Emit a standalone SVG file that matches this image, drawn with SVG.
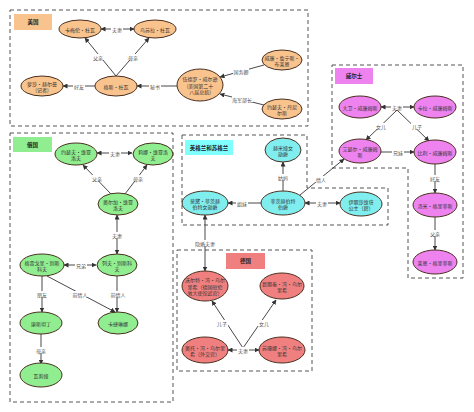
<svg xmlns="http://www.w3.org/2000/svg" width="474" height="412" viewBox="0 0 474 412">
<style>
text{font-family:"Noto Sans CJK SC","Liberation Sans",sans-serif;font-size:5px;fill:#333;text-anchor:middle;dominant-baseline:central}
.grp{fill:none;stroke:#555;stroke-width:1;stroke-dasharray:4,3}
.gl{font-weight:bold;font-size:5.5px;fill:#222}
.n{stroke:#4a3020;stroke-width:1}
.us{fill:#f9c38d}.ru{fill:#90ee90}.wa{fill:#ee82ee}.en{fill:#80eeee}.de{fill:#f08080}
.e{stroke:#333;stroke-width:0.9;fill:none;marker-end:url(#a)}
.d{marker-start:url(#b)}
.lb{fill:#fff}
.el{fill:#555}
</style>
<defs>
<marker id="a" viewBox="0 0 10 10" refX="9" refY="5" markerWidth="5" markerHeight="5" orient="auto" markerUnits="userSpaceOnUse"><path d="M0,0L10,5L0,10z" fill="#333"/></marker>
<marker id="b" viewBox="0 0 10 10" refX="1" refY="5" markerWidth="5" markerHeight="5" orient="auto" markerUnits="userSpaceOnUse"><path d="M10,0L0,5L10,10z" fill="#333"/></marker>
</defs>
<rect width="474" height="412" fill="#fff"/>
<g id="groups">
<rect class="grp" x="10" y="10" width="298" height="116"/>
<rect x="14" y="14" width="38" height="16" fill="#f9c38d"/><text class="gl" x="33" y="22">美国</text>
<rect class="grp" x="10" y="133" width="163" height="269"/>
<rect x="13" y="137" width="39" height="15" fill="#90ee90"/><text class="gl" x="32.5" y="144.5">俄国</text>
<polygon class="grp" points="182,135 307,135 307,188 388,188 388,225 182,225"/>
<rect x="185" y="140" width="48" height="15" fill="#80ffff"/><text class="gl" x="209" y="147.5">英格兰和苏格兰</text>
<polygon class="grp" points="332,65 463,65 463,278 408,278 408,168 332,168"/>
<rect x="335" y="68" width="38" height="16" fill="#ee82ee"/><text class="gl" x="354" y="76">威尔士</text>
<rect class="grp" x="177" y="250" width="135" height="121"/>
<rect x="226" y="253" width="39" height="16" fill="#f08080"/><text class="gl" x="245.5" y="261">德国</text>
</g>
<g id="connectors">
<line class="e d" x1="101" y1="29" x2="134" y2="29"/>
<line class="e" x1="116" y1="76" x2="85" y2="38"/>
<line class="e" x1="116" y1="76" x2="149" y2="38"/>
<line class="e" x1="95" y1="86" x2="63" y2="86"/>
<line class="e" x1="177" y1="86" x2="137" y2="86"/>
<line class="e" x1="264" y1="65" x2="220" y2="77"/>
<line class="e" x1="264" y1="105" x2="220" y2="94"/>
<line class="e d" x1="97" y1="153" x2="132" y2="153"/>
<line class="e" x1="111" y1="194" x2="83" y2="165"/>
<line class="e" x1="125" y1="194" x2="147" y2="165"/>
<line class="e d" x1="117" y1="215" x2="117" y2="254"/>
<line class="e d" x1="64" y1="265" x2="96" y2="265"/>
<line class="e" x1="42" y1="276" x2="42" y2="312"/>
<line class="e" x1="47" y1="276" x2="115" y2="312"/>
<line class="e" x1="117" y1="276" x2="117" y2="312"/>
<line class="e" x1="41" y1="334" x2="41" y2="364"/>
<line class="e d" x1="381" y1="107" x2="414" y2="107"/>
<line class="e" x1="397" y1="110" x2="366" y2="140"/>
<line class="e" x1="397" y1="110" x2="429" y2="141"/>
<line class="e" x1="381" y1="152" x2="414" y2="152"/>
<line class="e" x1="435" y1="164" x2="435" y2="193"/>
<line class="e" x1="435" y1="217" x2="435" y2="250"/>
<line class="e" x1="283" y1="191" x2="283" y2="162"/>
<line class="e" x1="261" y1="203" x2="228" y2="203"/>
<line class="e d" x1="305" y1="203" x2="340" y2="203"/>
<line class="e" x1="300" y1="195" x2="344" y2="159"/>
<line class="e d" x1="205" y1="215" x2="205" y2="271"/>
<line class="e d" x1="228" y1="350" x2="259" y2="350"/>
<line class="e" x1="243" y1="348" x2="212" y2="301"/>
<line class="e" x1="243" y1="348" x2="276" y2="300"/>
<g id="edge-labels">
<rect class="lb" x="111" y="26" width="12" height="6"/><text class="el" x="117" y="29">夫妻</text>
<rect class="lb" x="92" y="54" width="12" height="6"/><text class="el" x="98" y="57">父亲</text>
<rect class="lb" x="127" y="54" width="12" height="6"/><text class="el" x="133" y="57">母亲</text>
<rect class="lb" x="73" y="83" width="12" height="6"/><text class="el" x="79" y="86">好友</text>
<rect class="lb" x="149" y="83" width="12" height="6"/><text class="el" x="155" y="86">秘书</text>
<rect class="lb" x="233" y="68" width="16" height="6"/><text class="el" x="241" y="71">国务卿</text>
<rect class="lb" x="232" y="96" width="21" height="6"/><text class="el" x="242" y="99">海军部长</text>
<rect class="lb" x="109" y="150" width="12" height="6"/><text class="el" x="115" y="153">夫妻</text>
<rect class="lb" x="91" y="175" width="12" height="6"/><text class="el" x="97" y="178">父亲</text>
<rect class="lb" x="132" y="175" width="12" height="6"/><text class="el" x="138" y="178">母亲</text>
<rect class="lb" x="111" y="232" width="12" height="6"/><text class="el" x="117" y="235">夫妻</text>
<rect class="lb" x="75" y="262" width="12" height="6"/><text class="el" x="81" y="265">兄弟</text>
<rect class="lb" x="36" y="291" width="12" height="6"/><text class="el" x="42" y="294">朋友</text>
<rect class="lb" x="72" y="291" width="16" height="6"/><text class="el" x="80" y="294">前情人</text>
<rect class="lb" x="110" y="291" width="16" height="6"/><text class="el" x="118" y="294">前情人</text>
<rect class="lb" x="35" y="347" width="12" height="6"/><text class="el" x="41" y="350">母亲</text>
<rect class="lb" x="391" y="104" width="12" height="6"/><text class="el" x="397" y="107">夫妻</text>
<rect class="lb" x="375" y="123" width="12" height="6"/><text class="el" x="381" y="126">女儿</text>
<rect class="lb" x="411" y="123" width="12" height="6"/><text class="el" x="417" y="126">儿子</text>
<rect class="lb" x="392" y="149" width="12" height="6"/><text class="el" x="398" y="152">兄妹</text>
<rect class="lb" x="429" y="175" width="12" height="6"/><text class="el" x="435" y="178">好友</text>
<rect class="lb" x="429" y="230" width="12" height="6"/><text class="el" x="435" y="233">父亲</text>
<rect class="lb" x="277" y="174" width="12" height="6"/><text class="el" x="283" y="177">姑妈</text>
<rect class="lb" x="236" y="200" width="12" height="6"/><text class="el" x="242" y="203">姐妹</text>
<rect class="lb" x="316" y="200" width="12" height="6"/><text class="el" x="322" y="203">夫妻</text>
<rect class="lb" x="315" y="176" width="12" height="6"/><text class="el" x="321" y="179">情人</text>
<rect class="lb" x="195" y="240" width="21" height="6"/><text class="el" x="205" y="243">隐婚夫妻</text>
<rect class="lb" x="237" y="347" width="12" height="6"/><text class="el" x="243" y="350">夫妻</text>
<rect class="lb" x="216" y="320" width="12" height="6"/><text class="el" x="222" y="323">儿子</text>
<rect class="lb" x="258" y="320" width="12" height="6"/><text class="el" x="264" y="323">女儿</text>
</g>
</g>
<g id="n-cameron"><ellipse class="n us" cx="80" cy="29" rx="21" ry="9"/><text x="80" y="29">卡梅伦·杜瓦</text></g>
<g id="n-ursula"><ellipse class="n us" cx="155" cy="29" rx="21" ry="9"/><text x="155" y="29">乌苏拉·杜瓦</text></g>
<g id="n-gus"><ellipse class="n us" cx="116" cy="86" rx="21" ry="10"/><text x="116" y="86">格斯·杜瓦</text></g>
<g id="n-rosa"><ellipse class="n us" cx="42" cy="86" rx="21" ry="10"/><text x="42" y="83">萝莎·赫尔曼</text><text x="42" y="89.5">(记者)</text></g>
<g id="n-wilson"><ellipse class="n us" cx="200" cy="85" rx="23" ry="16"/><text x="200" y="78.5">伍德罗·威尔逊</text><text x="200" y="85">(美国第二十</text><text x="200" y="91.5">八届总统)</text></g>
<g id="n-bryan"><ellipse class="n us" cx="282" cy="60" rx="20" ry="10"/><text x="282" y="57">威廉·詹宁斯·</text><text x="282" y="63.5">布莱恩</text></g>
<g id="n-daniels"><ellipse class="n us" cx="282" cy="109" rx="20" ry="10"/><text x="282" y="106">约瑟夫·丹尼</text><text x="282" y="112.5">尔斯</text></g>
<g id="n-josef"><ellipse class="n ru" cx="76" cy="154" rx="21" ry="11"/><text x="76" y="151">约瑟夫·维亚</text><text x="76" y="157.5">洛夫</text></g>
<g id="n-lena"><ellipse class="n ru" cx="153" cy="154" rx="20" ry="11"/><text x="153" y="151">莉娜·维亚洛</text><text x="153" y="157.5">夫</text></g>
<g id="n-olga"><ellipse class="n ru" cx="118" cy="204" rx="20" ry="11"/><text x="118" y="201">奥尔加·维亚</text><text x="118" y="207.5">洛夫</text></g>
<g id="n-lev"><ellipse class="n ru" cx="117" cy="265" rx="20" ry="11"/><text x="117" y="262">列夫·别斯科</text><text x="117" y="268.5">夫</text></g>
<g id="n-grigori"><ellipse class="n ru" cx="42" cy="265" rx="22" ry="11"/><text x="42" y="262">格雷戈里·别斯</text><text x="42" y="268.5">科夫</text></g>
<g id="n-konstantin"><ellipse class="n ru" cx="41" cy="323" rx="21" ry="11"/><text x="41" y="323">康斯坦丁</text></g>
<g id="n-katerina"><ellipse class="n ru" cx="118" cy="323" rx="20" ry="11"/><text x="118" y="323">卡捷琳娜</text></g>
<g id="n-varya"><ellipse class="n ru" cx="41" cy="375" rx="21" ry="12"/><text x="41" y="375">瓦莉娅</text></g>
<g id="n-david"><ellipse class="n wa" cx="360" cy="107" rx="21" ry="11"/><text x="360" y="107">大卫·威廉姆斯</text></g>
<g id="n-cara"><ellipse class="n wa" cx="435" cy="107" rx="21" ry="11"/><text x="435" y="107">卡拉·威廉姆斯</text></g>
<g id="n-ethel"><ellipse class="n wa" cx="360" cy="151" rx="21" ry="12"/><text x="360" y="148">艾瑟尔·威廉姆</text><text x="360" y="154.5">斯</text></g>
<g id="n-billy"><ellipse class="n wa" cx="435" cy="152" rx="21" ry="12"/><text x="435" y="152">比利·威廉姆斯</text></g>
<g id="n-tommy"><ellipse class="n wa" cx="435" cy="205" rx="22" ry="12"/><text x="435" y="205">汤米·格里菲斯</text></g>
<g id="n-len"><ellipse class="n wa" cx="435" cy="262" rx="22" ry="12"/><text x="435" y="262">莱恩·格里菲斯</text></g>
<g id="n-hermia"><ellipse class="n en" cx="283" cy="150" rx="18" ry="12"/><text x="283" y="147">赫米娅女</text><text x="283" y="153.5">勋爵</text></g>
<g id="n-fitz"><ellipse class="n en" cx="283" cy="203" rx="22" ry="12"/><text x="283" y="200">菲茨赫伯特</text><text x="283" y="206.5">伯爵</text></g>
<g id="n-maud"><ellipse class="n en" cx="205" cy="203" rx="23" ry="12"/><text x="205" y="200">莫黛·菲茨赫</text><text x="205" y="206.5">伯特女勋爵</text></g>
<g id="n-bea"><ellipse class="n en" cx="361" cy="204" rx="21" ry="12"/><text x="361" y="201">伊丽莎维塔</text><text x="361" y="207.5">公主（碧）</text></g>
<g id="n-walter"><ellipse class="n de" cx="205" cy="286" rx="23" ry="15"/><text x="205" y="279.5">沃尔特·冯·乌尔</text><text x="205" y="286">里希（德国驻伦</text><text x="205" y="292.5">敦大使馆武官）</text></g>
<g id="n-greta"><ellipse class="n de" cx="282" cy="286" rx="22" ry="13"/><text x="282" y="283">葛丽泰·冯·乌尔</text><text x="282" y="289.5">里希</text></g>
<g id="n-otto"><ellipse class="n de" cx="205" cy="350" rx="23" ry="13"/><text x="205" y="347">奥托·冯·乌尔里</text><text x="205" y="353.5">希（外交官）</text></g>
<g id="n-susanne"><ellipse class="n de" cx="282" cy="350" rx="23" ry="13"/><text x="282" y="347">苏珊娜·冯·乌尔</text><text x="282" y="353.5">里希</text></g>
</svg>
